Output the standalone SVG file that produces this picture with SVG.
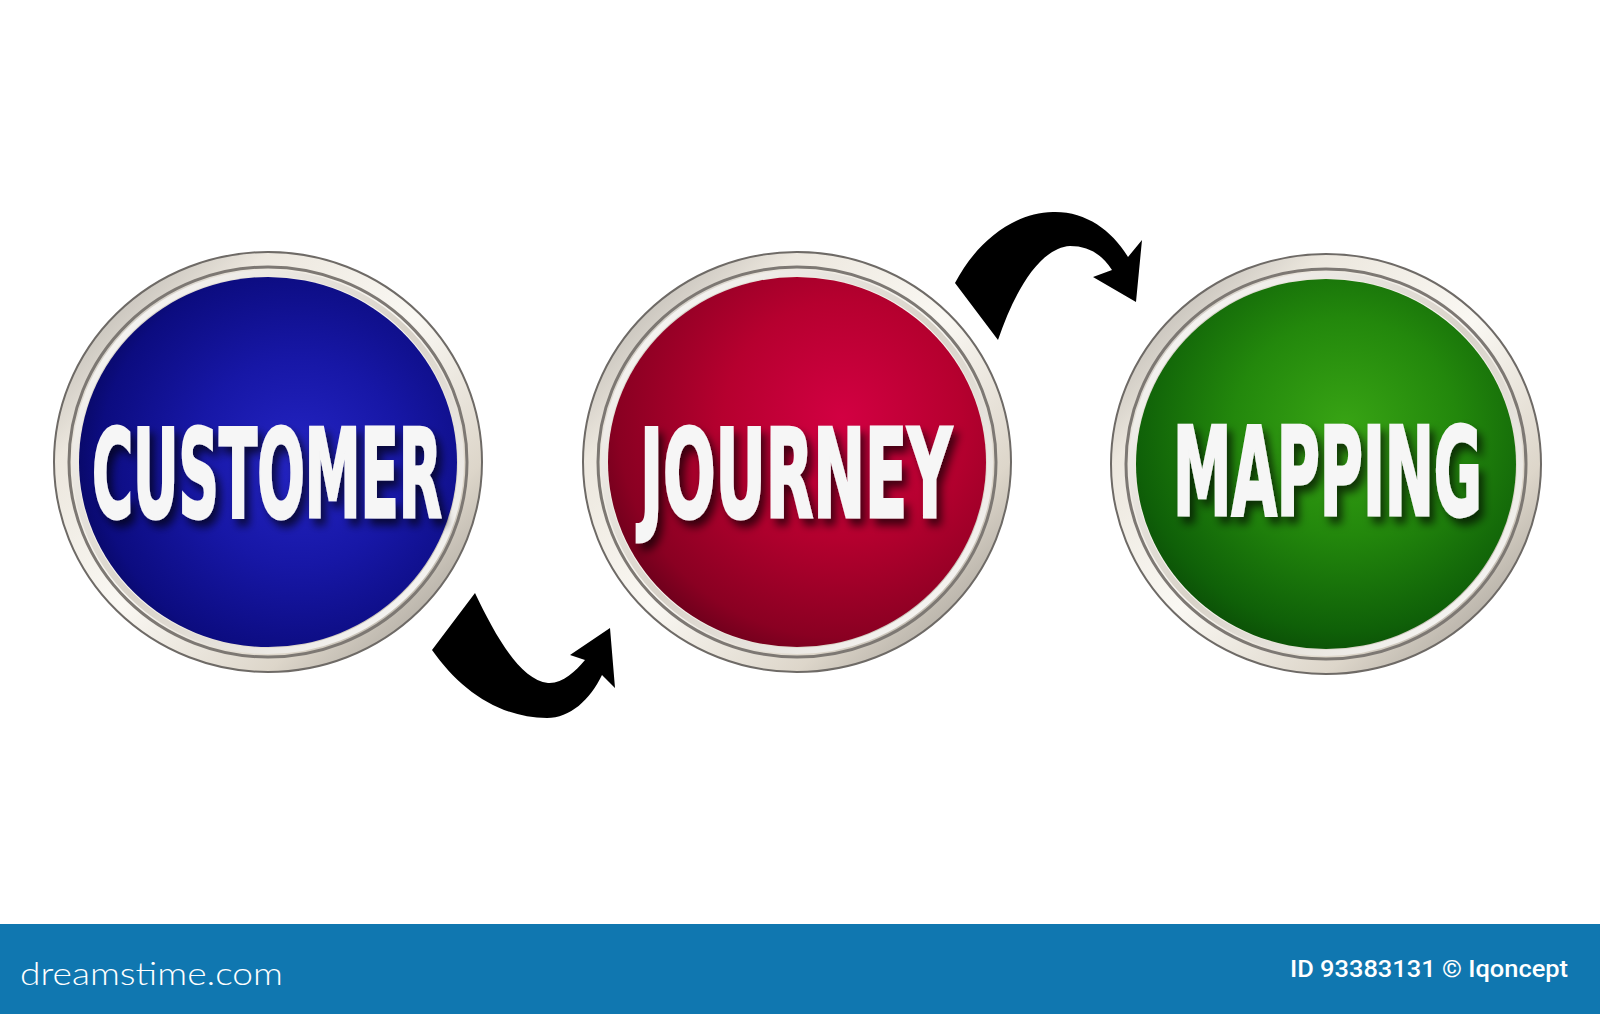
<svg xmlns="http://www.w3.org/2000/svg" width="1600" height="1014" viewBox="0 0 1600 1014">
<defs>
  <linearGradient id="ring" x1="0" y1="0" x2="1" y2="1">
    <stop offset="0" stop-color="#a09c96"/>
    <stop offset="0.25" stop-color="#ece7de"/>
    <stop offset="0.5" stop-color="#faf8f3"/>
    <stop offset="0.75" stop-color="#ddd6ca"/>
    <stop offset="1" stop-color="#8e8a84"/>
  </linearGradient>
  <linearGradient id="ringInner" x1="1" y1="1" x2="0" y2="0">
    <stop offset="0" stop-color="#ffffff"/>
    <stop offset="0.5" stop-color="#d8d2c8"/>
    <stop offset="1" stop-color="#ffffff"/>
  </linearGradient>
  <radialGradient id="blue" cx="0.58" cy="0.5" r="0.62">
    <stop offset="0" stop-color="#2424c4"/>
    <stop offset="0.45" stop-color="#1717a6"/>
    <stop offset="0.85" stop-color="#0c0c80"/>
    <stop offset="1" stop-color="#07075c"/>
  </radialGradient>
  <radialGradient id="red" cx="0.62" cy="0.38" r="0.7">
    <stop offset="0" stop-color="#d20042"/>
    <stop offset="0.45" stop-color="#b6002f"/>
    <stop offset="0.85" stop-color="#8a0022"/>
    <stop offset="1" stop-color="#66001a"/>
  </radialGradient>
  <radialGradient id="green" cx="0.55" cy="0.4" r="0.65">
    <stop offset="0" stop-color="#38a414"/>
    <stop offset="0.45" stop-color="#23880c"/>
    <stop offset="0.85" stop-color="#0f6008"/>
    <stop offset="1" stop-color="#0a4a06"/>
  </radialGradient>
  <filter id="shadow" x="-10%" y="-20%" width="130%" height="160%">
    <feDropShadow dx="5" dy="7" stdDeviation="4" flood-color="#000" flood-opacity="0.65"/>
  </filter>
</defs>
<style>
  .rimOuter { fill: url(#ring); stroke: #6e6a66; stroke-width: 2; }
  .rimLine { fill: none; stroke: #7d7873; stroke-width: 3; }
  .rimHi { fill: none; stroke: url(#ringInner); stroke-width: 6; }
  .label { font-family: "Liberation Sans Narrow", "DejaVu Sans Condensed", "Liberation Sans", sans-serif; font-weight: bold; font-size: 123px; fill: #f6f6f6; stroke: #f6f6f6; stroke-width: 3; stroke-linejoin: miter; filter: url(#shadow); }
  .arrow { fill: #000000; }
  .banner { fill: #1077b0; }
  .brand { font-family: "Lato", "DejaVu Sans", sans-serif; font-weight: 300; font-size: 31px; fill: #ffffff; }
  .credit { font-family: Roboto, "Liberation Sans", sans-serif; font-weight: 500; font-size: 24px; fill: #ffffff; }
</style>
<rect x="0" y="0" width="1600" height="1014" fill="#ffffff"/>

<g id="node-customer">
  <ellipse class="rimOuter" cx="268" cy="462" rx="214" ry="210"/>
  <ellipse class="rimLine" cx="268" cy="462" rx="199" ry="195"/>
  <ellipse class="rimHi" cx="268" cy="462" rx="193" ry="189"/>
  <ellipse cx="268" cy="462" rx="189" ry="185" fill="url(#blue)"/>
  <text class="label" x="92" y="517" textLength="350" lengthAdjust="spacingAndGlyphs">CUSTOMER</text>
</g>

<g id="node-journey">
  <ellipse class="rimOuter" cx="797" cy="462" rx="214" ry="210"/>
  <ellipse class="rimLine" cx="797" cy="462" rx="199" ry="195"/>
  <ellipse class="rimHi" cx="797" cy="462" rx="193" ry="189"/>
  <ellipse cx="797" cy="462" rx="189" ry="185" fill="url(#red)"/>
  <text class="label" x="640" y="517" textLength="312" lengthAdjust="spacingAndGlyphs">JOURNEY</text>
</g>

<g id="node-mapping">
  <ellipse class="rimOuter" cx="1326" cy="464" rx="215" ry="210"/>
  <ellipse class="rimLine" cx="1326" cy="464" rx="200" ry="195"/>
  <ellipse class="rimHi" cx="1326" cy="464" rx="194" ry="189"/>
  <ellipse cx="1326" cy="464" rx="190" ry="185" fill="url(#green)"/>
  <text class="label" x="1173" y="515" textLength="309" lengthAdjust="spacingAndGlyphs">MAPPING</text>
</g>

<g id="connectors">
  <path class="arrow" d="M 432,650 L 475,593 C 495,635 520,680 548,683 C 562,684 575,672 585,660 L 570,655 L 610,628 L 615,688 L 602,675 C 590,700 570,718 547,718 C 500,718 460,690 432,650 Z"/>
  <path class="arrow" d="M 955,283 C 975,245 1010,213 1053,212 C 1085,211 1112,230 1128,257 L 1142,240 L 1136,302 L 1093,277 L 1112,270 C 1102,254 1088,246 1070,246 C 1040,248 1015,290 998,340 Z"/>
</g>

<g id="banner">
  <rect class="banner" x="0" y="924" width="1600" height="90"/>
  <text class="brand" x="20" y="985" textLength="263" lengthAdjust="spacingAndGlyphs">dreamstime.com</text>
  <text class="credit" x="1290" y="977" textLength="278" lengthAdjust="spacingAndGlyphs">ID 93383131 © Iqoncept</text>
</g>
</svg>
